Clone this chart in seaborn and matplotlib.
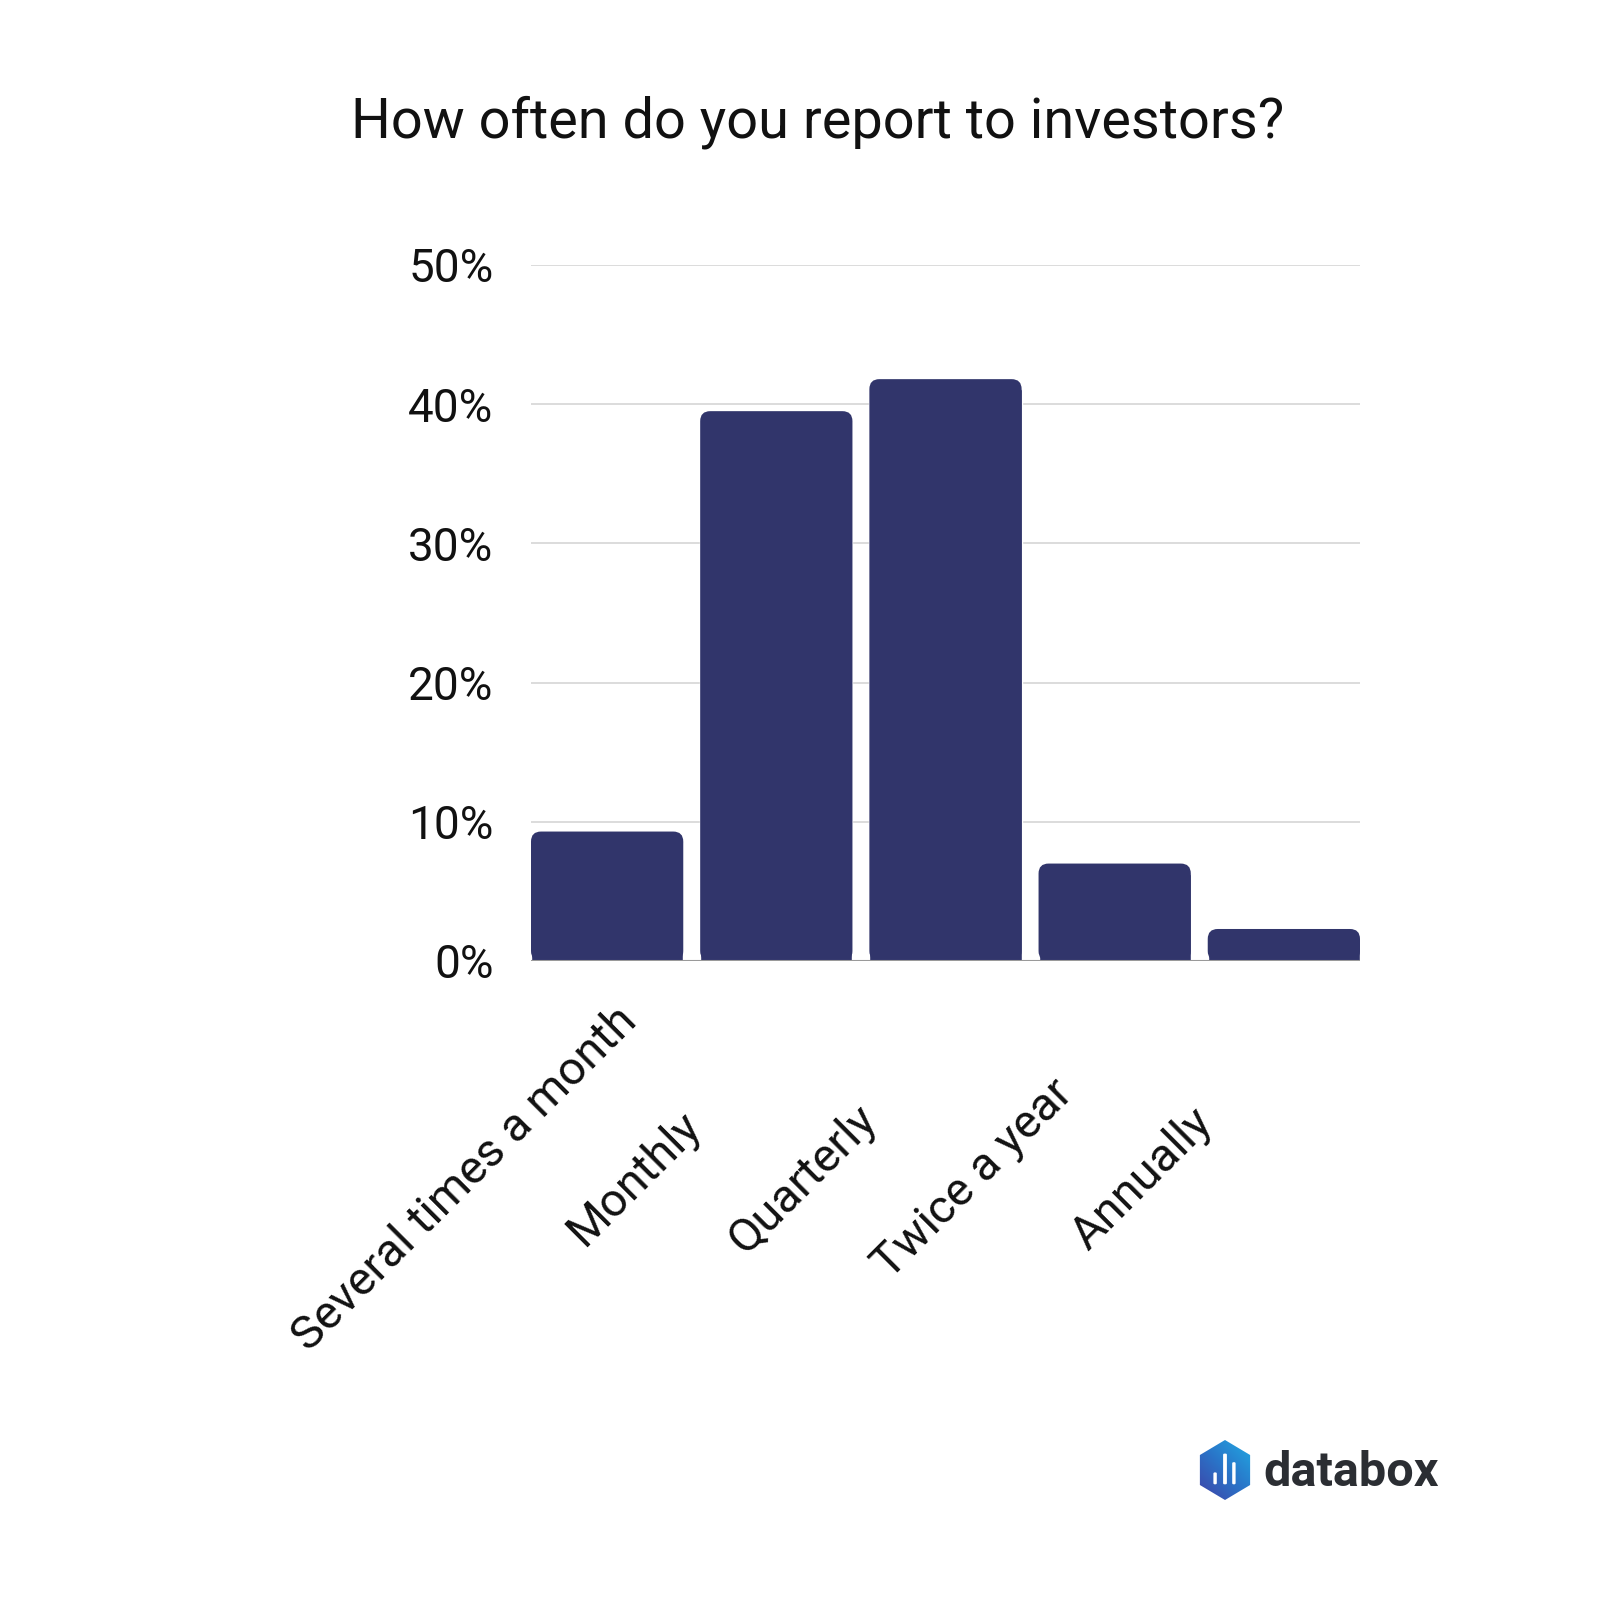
import matplotlib
matplotlib.use("Agg")
import matplotlib.pyplot as plt
import numpy as np
import seaborn as sns
from matplotlib.colors import LinearSegmentedColormap
from matplotlib.patches import FancyBboxPatch, Polygon
from matplotlib.transforms import ScaledTranslation

# data (percent of respondents)
categories = ["Several times a month", "Monthly", "Quarterly", "Twice a year", "Annually"]
shares = [9.3, 39.5, 41.8, 7.0, 2.3]
y_ticks = [0, 10, 20, 30, 40, 50]
y_tick_labels = ["0%", "10%", "20%", "30%", "40%", "50%"]
title = "How often do you report to investors?"

BAR = "#31356b"
W, H = 1600, 1600

sns.set_theme(style="white")
plt.rcParams["font.family"] = ["Roboto", "DejaVu Sans"]

fig = plt.figure(figsize=(W / 100, H / 100), dpi=100)
fig.patch.set_facecolor("white")

# axes box in pixels: x 531..1360, y 265..961
left, right, top, bottom = 531, 1360, 265, 961
ax = fig.add_axes([left / W, 1 - bottom / H, (right - left) / W, (bottom - top) / H])

bar_w = 0.9
sns.barplot(x=categories, y=shares, color=BAR, width=bar_w, saturation=1, ax=ax, zorder=3)

ax.set_xlim(-bar_w / 2, len(categories) - 1 + bar_w / 2)
ax.set_ylim(0, 50)

# rounded top corners (~10 px)
x_per_px = (len(categories) - 1 + bar_w) / (right - left)
y_per_px = 50 / (bottom - top)
r_px = 10
aspect = y_per_px / x_per_px
for p in list(ax.patches):
    x0, h, w = p.get_x(), p.get_height(), p.get_width()
    ax.add_patch(FancyBboxPatch((x0, 0), w, h,
                                boxstyle=f"round,pad=0,rounding_size={r_px * x_per_px}",
                                mutation_aspect=aspect, fc=BAR, ec="none", zorder=3))
    p.set_height(max(h - r_px * y_per_px, 0))

# grid
for t in y_ticks[1:]:
    ax.axhline(t, color="#d9d9d9", lw=1.3, zorder=1)
ax.axhline(0, color="#9a9a9a", lw=1.5, zorder=4)

for s in ax.spines.values():
    s.set_visible(False)
ax.set_yticks(y_ticks)
ax.set_yticklabels(y_tick_labels)
ax.tick_params(axis="y", length=0, pad=27, labelsize=33, labelcolor="#111111")
ax.set_xticks(range(len(categories)))
ax.set_xticklabels([])
ax.tick_params(axis="x", length=0)
ax.set_xlabel("")
ax.set_ylabel("")

# rotated category labels, centred 218 px below axis and shifted left
shift = ScaledTranslation(-142 / 100, -218 / 100, fig.dpi_scale_trans)
for i, cat in enumerate(categories):
    ax.text(i, 0, cat, transform=ax.get_xaxis_transform() + shift,
            rotation=45, rotation_mode="anchor", ha="center", va="center",
            fontsize=33.8, color="#111111")

fig.text(818 / W, 1 - 122 / H, title, ha="center", va="center",
         fontsize=40.2, color="#111111")

# databox logo
cx, cy = 1225, 1470
lax = fig.add_axes([(cx - 32) / W, 1 - (cy + 34) / H, 64 / W, 68 / H])
lax.set_xlim(-32, 32)
lax.set_ylim(-34, 34)
lax.axis("off")
ang = np.deg2rad([90, 150, 210, 270, 330, 30])
hexagon = Polygon(np.c_[27 / np.cos(np.pi / 6) * 0.93 * np.cos(ang), 30 * np.sin(ang)],
                  closed=True, fc="none", ec="none", joinstyle="round")
lax.add_patch(hexagon)
gx, gy = np.meshgrid(np.linspace(0, 1, 200), np.linspace(0, 1, 200))
grad = (gx + (1 - gy)) / 2
cmap = LinearSegmentedColormap.from_list("db", ["#4338a0", "#2a74c8", "#1fb4e8"])
img = lax.imshow(grad, extent=[-32, 32, -34, 34], cmap=cmap, origin="upper",
                 aspect="auto", zorder=1)
img.set_clip_path(hexagon)
for bx, bw, btop in [(-11.6, 3.4, -2.4), (-1.9, 3.8, 16.4), (7.2, 3.4, 7.8)]:
    lax.add_patch(FancyBboxPatch((bx, -14.3), bw, btop + 14.3,
                                 boxstyle="round,pad=0,rounding_size=1.2",
                                 fc="white", ec="none", zorder=2))

fig.text(1263 / W, 1 - 1486 / H, "databox", ha="left", va="baseline",
         fontsize=35, fontweight="bold", color="#2b2e33")

fig.savefig("out.png", dpi=100, facecolor="white")
